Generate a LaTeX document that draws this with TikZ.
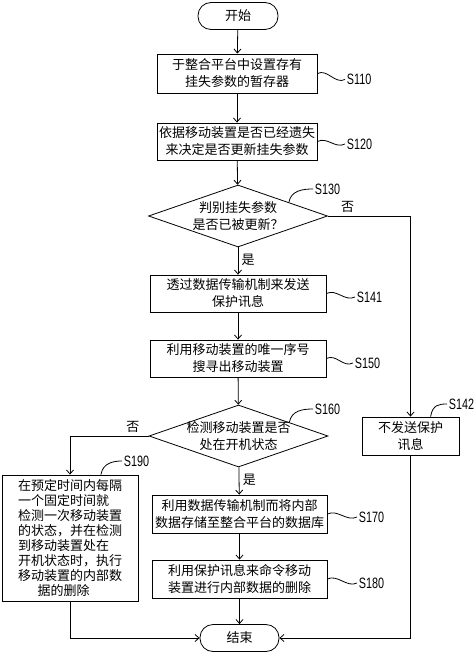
\documentclass[tikz,border=0pt]{standalone}
\usepackage{fontspec}
\usepackage{graphicx}
\newfontfamily\cjk{Noto Sans CJK SC}
\newfontfamily\lblfont{Liberation Sans}
\newcommand{\stepno}[1]{\scalebox{0.72}[1]{#1}}
\usetikzlibrary{arrows.meta,shapes.geometric}
\begin{document}
\begin{tikzpicture}[x=1pt, y=-1pt, line width=0.8pt, >={Straight Barb[length=4pt,width=7pt]},
	every node/.style={font=\cjk\fontsize{13}{17}\selectfont},
	main box/.style={rectangle,draw,align=center,inner sep=1pt,minimum height=38pt},
	term node/.style={rectangle,draw,rounded corners=13pt,minimum width=80pt,minimum height=27pt},
	test node/.style={diamond,draw,aspect=2.9,inner sep=-5pt,minimum width=179pt,minimum height=62pt,align=center},
	step label/.style={anchor=west,inner sep=1.5pt,font=\lblfont\fontsize{15}{15}\selectfont}]

	\useasboundingbox (0,0) rectangle (474,652);

	\node[term node] at (238, 16) (start) {开始};
	\node[main box, minimum width=160pt, minimum height=39pt] at (237, 73.5) (s110) {于整合平台中设置存有\\挂失参数的暂存器};
	\node[main box, minimum width=160pt, minimum height=37pt] at (237, 141.5) (s120) {依据移动装置是否已经遗失\\来决定是否更新挂失参数};
	\node[test node] at (238, 216) (s130) {判别挂失参数\\是否已被更新？};
	\node[main box, minimum width=176pt, minimum height=37pt] at (238, 293.5) (s141) {透过数据传输机制来发送\\保护讯息};
	\node[main box, minimum width=176pt, minimum height=37pt] at (238, 358.5) (s150) {利用移动装置的唯一序号\\搜寻出移动装置};
	\node[test node] at (238.5, 436) (s160) {检测移动装置是否\\处在开机状态};
	\node[main box, minimum width=97pt] at (410.5, 436) (s142) {不发送保护\\讯息};
	\node[main box, minimum width=136pt, minimum height=126pt, align=left,
		font=\cjk\fontsize{13}{15}\selectfont] at (70, 538) (s190) {在预定时间内每隔\\一个固定时间就\\检测一次移动装置\\的状态，并在检测\\到移动装置处在\\开机状态时，执行\\移动装置的内部数\\\hspace*{1.5em}据的删除};
	\node[main box, minimum width=175pt] at (239.5, 514) (s170) {利用数据传输机制而将内部\\数据存储至整合平台的数据库};
	\node[main box, minimum width=175pt] at (239.5, 579) (s180) {利用保护讯息来命令移动\\装置进行内部数据的删除};
	\node[term node, minimum width=79pt] at (239.5, 638) (finish) {结束};

	% step numbers
	\node[step label] at (345, 79.5) (l110) {\stepno{S110}};
	\node[step label] at (345, 144) (l120) {\stepno{S120}};
	\node[step label] at (313, 189) (l130) {\stepno{S130}};
	\node[step label] at (355, 297) (l141) {\stepno{S141}};
	\node[step label] at (353, 363) (l150) {\stepno{S150}};
	\node[step label] at (313, 409) (l160) {\stepno{S160}};
	\node[step label] at (447, 404) (l142) {\stepno{S142}};
	\node[step label] at (357, 517) (l170) {\stepno{S170}};
	\node[step label] at (357, 583) (l180) {\stepno{S180}};
	\node[step label] at (122, 461) (l190) {\stepno{S190}};

	\draw (s110.east) .. controls +(10,-5) and +(-10,5) .. (l110.west);
	\draw (s120.east) .. controls +(10,-5) and +(-10,5) .. (l120.west);
	\draw (s141.east) .. controls +(10,-5) and +(-10,5) .. (l141.west);
	\draw (s150.east) .. controls +(10,-5) and +(-10,5) .. (l150.west);
	\draw (s170.east) .. controls +(10,-5) and +(-10,5) .. (l170.west);
	\draw (s180.east) .. controls +(10,-5) and +(-10,5) .. (l180.west);
	\draw (s130.15) .. controls +(2,-12) and +(-10,0) .. (l130.west);
	\draw (s160.15) .. controls +(2,-12) and +(-10,0) .. (l160.west);
	\draw (s142.44) .. controls +(2,-12) and +(-8,0) .. (l142.west);
	\draw (s190.64) .. controls +(2,-12) and +(-8,0) .. (l190.west);

	\path[->] (start) edge (s110);
	\path[->] (s110) edge (s120);
	\path[->] (s120) edge (s130);
	\path[->] (s130) edge node[right, pos=0.45] {是} (s141);
	\path[->] (s141) edge (s150);
	\path[->] (s150) edge (s160);
	\path[->] (s160) edge node[right, pos=0.45] {是} (s170);
	\path[->] (s170) edge (s180);
	\path[->] (s180) edge (finish);
	\draw[->] (s130.east) -| node[pos=0.12, above] {否} (s142.north);
	\draw[->] (s160.west) -| node[pos=0.1, above] {否} (s190.north);
	\draw[->] (s190.south) |- (finish.west);
	\draw[->] (s142.south) |- (finish.east);
\end{tikzpicture}
\end{document}
